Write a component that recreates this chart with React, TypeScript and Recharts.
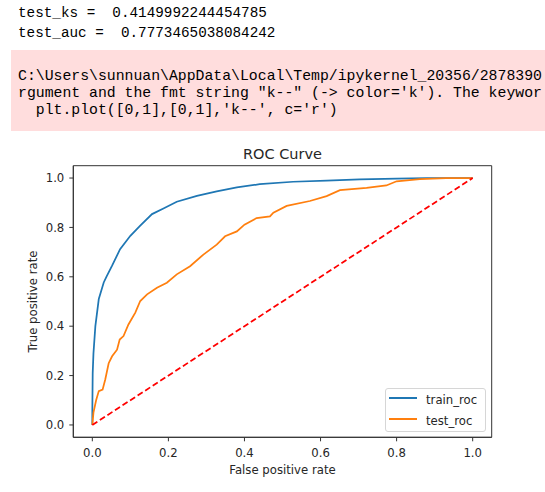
import { LineChart, Line, XAxis, YAxis, ReferenceArea, Legend } from "recharts";

// printed output above the figure
const stdoutLines = ["test_ks =  0.4149992244454785", "test_auc =  0.7773465038084242"];
const stderrLines = [
  "C:\\Users\\sunnuan\\AppData\\Local\\Temp/ipykernel_20356/2878390",
  "rgument and the fmt string \"k--\" (-> color='k'). The keywor",
  "  plt.plot([0,1],[0,1],'k--', c='r')",
];

// ROC points
const trainFpr = [0, 0, 0.001, 0.003, 0.008, 0.017, 0.03, 0.037, 0.052, 0.073, 0.1, 0.126, 0.157, 0.187, 0.222, 0.275, 0.327, 0.38, 0.44, 0.528, 0.616, 0.703, 0.8, 0.878, 1.0];
const trainTpr = [0, 0.05, 0.21, 0.29, 0.4, 0.51, 0.577, 0.6, 0.645, 0.712, 0.766, 0.807, 0.854, 0.877, 0.904, 0.928, 0.946, 0.962, 0.975, 0.985, 0.99, 0.995, 0.998, 1.0, 1.0];

const testFpr = [0, 0.003, 0.01, 0.017, 0.027, 0.034, 0.043, 0.052, 0.065, 0.072, 0.082, 0.095, 0.113, 0.126, 0.144, 0.17, 0.196, 0.222, 0.257, 0.292, 0.327, 0.349, 0.38, 0.4, 0.432, 0.467, 0.476, 0.511, 0.572, 0.616, 0.651, 0.721, 0.773, 0.8, 0.861, 0.93, 1.0];
const testTpr = [0, 0.05, 0.1, 0.137, 0.143, 0.184, 0.25, 0.278, 0.305, 0.346, 0.36, 0.407, 0.455, 0.502, 0.529, 0.556, 0.576, 0.61, 0.643, 0.69, 0.73, 0.764, 0.784, 0.811, 0.838, 0.845, 0.86, 0.887, 0.907, 0.927, 0.951, 0.96, 0.97, 0.987, 0.996, 1.0, 1.0];

const diagFpr = [0, 1];
const diagTpr = [0, 1];

const legendOrder = ["train_roc", "test_roc"];
const ticks = [0, 0.2, 0.4, 0.6, 0.8, 1.0];
const DOMAIN: [number, number] = [-0.05, 1.05];

const toPoints = (xs: number[], ys: number[]) => xs.map((x, i) => ({ fpr: x, tpr: ys[i] }));

const trainData = toPoints(trainFpr, trainTpr);
const testData = toPoints(testFpr, testTpr);
const diagData = toPoints(diagFpr, diagTpr);

const mplFont = "'DejaVu Sans', sans-serif";
const tickStyle = { fontSize: 11.7, fill: "#262626", fontFamily: mplFont };

const renderLegend = (props: any) => {
  const items = (props.payload || [])
    .filter((e: any) => legendOrder.includes(e.value))
    .sort((a: any, b: any) => legendOrder.indexOf(a.value) - legendOrder.indexOf(b.value));
  return (
    <div
      style={{
        width: 99,
        height: 42,
        boxSizing: "content-box",
        border: "1px solid #d6d6d6",
        borderRadius: 3,
        background: "rgba(255,255,255,0.8)",
        fontFamily: mplFont,
        fontSize: 11.7,
        color: "#262626",
      }}
    >
      {items.map((entry: any, i: number) => (
        <div key={i} style={{ display: "flex", alignItems: "center", height: 17, marginTop: i === 0 ? 0 : 4, paddingLeft: 3 }}>
          <span style={{ display: "inline-block", width: 28, height: 2, background: entry.color }} />
          <span style={{ marginLeft: 9, position: "relative", top: 2 }}>{entry.value}</span>
        </div>
      ))}
    </div>
  );
};

const App = () => {
  return (
    <div style={{ position: "absolute", left: 0, top: 0, width: 545, height: 492, background: "#fff", overflow: "hidden" }}>
      <div style={{ position: "absolute", left: 18, top: 3, fontFamily: "'Liberation Mono', monospace", fontSize: 14.3, lineHeight: "20px", color: "#000", whiteSpace: "pre" }}>
        {stdoutLines.map((l, i) => (
          <div key={i}>{l}</div>
        ))}
      </div>
      <div style={{ position: "absolute", left: 11, top: 50, width: 534, height: 81, background: "#ffdddd" }} />
      <div style={{ position: "absolute", left: 18, top: 68, fontFamily: "'Liberation Mono', monospace", fontSize: 14.8, lineHeight: "17px", color: "#000", whiteSpace: "pre" }}>
        {stderrLines.map((l, i) => (
          <div key={i}>{l}</div>
        ))}
      </div>

      <div style={{ position: "absolute", left: 73.3, width: 418.4, top: 145.5, textAlign: "center", fontFamily: mplFont, fontSize: 14.5, lineHeight: "17px", color: "#262626" }}>
        ROC Curve
      </div>

      <div style={{ position: "absolute", left: 0, top: 140 }}>
        <LineChart width={545} height={352} margin={{ top: 25.7, right: 53.3, left: 0, bottom: 0 }}>
          <XAxis
            dataKey="fpr"
            type="number"
            domain={DOMAIN}
            ticks={ticks}
            tickFormatter={(v: number) => v.toFixed(1)}
            height={54.7}
            tick={tickStyle}
            tickSize={4}
            tickMargin={7}
            stroke="#333"
            allowDataOverflow
            label={{ value: "False positive rate", position: "insideBottom", offset: 18, style: { fontSize: 11.7, fill: "#262626", fontFamily: mplFont } }}
          />
          <YAxis
            dataKey="tpr"
            type="number"
            domain={DOMAIN}
            ticks={ticks}
            tickFormatter={(v: number) => v.toFixed(1)}
            width={73.3}
            tick={tickStyle}
            tickSize={4}
            tickMargin={5}
            stroke="#333"
            allowDataOverflow
            label={{
              value: "True positive rate",
              angle: -90,
              position: "insideLeft",
              offset: 32.5,
              style: { fontSize: 11.7, fill: "#262626", fontFamily: mplFont, textAnchor: "middle" },
            }}
          />
          <Line data={trainData} dataKey="tpr" name="train_roc" type="linear" stroke="#1f77b4" strokeWidth={1.75} dot={false} activeDot={false} isAnimationActive={false} />
          <Line data={testData} dataKey="tpr" name="test_roc" type="linear" stroke="#ff7f0e" strokeWidth={1.75} dot={false} activeDot={false} isAnimationActive={false} />
          <Line data={diagData} dataKey="tpr" name="diag" legendType="none" type="linear" stroke="#ff0000" strokeWidth={1.75} strokeDasharray="6 3" dot={false} activeDot={false} isAnimationActive={false} />
          <ReferenceArea x1={DOMAIN[0]} x2={DOMAIN[1]} y1={DOMAIN[0]} y2={DOMAIN[1]} fill="none" fillOpacity={0} stroke="#333" strokeWidth={1} />
          <Legend layout="vertical" align="center" verticalAlign="middle" content={renderLegend} wrapperStyle={{ left: 385, top: 248, width: 101 }} />
        </LineChart>
      </div>
    </div>
  );
};

export default App;
